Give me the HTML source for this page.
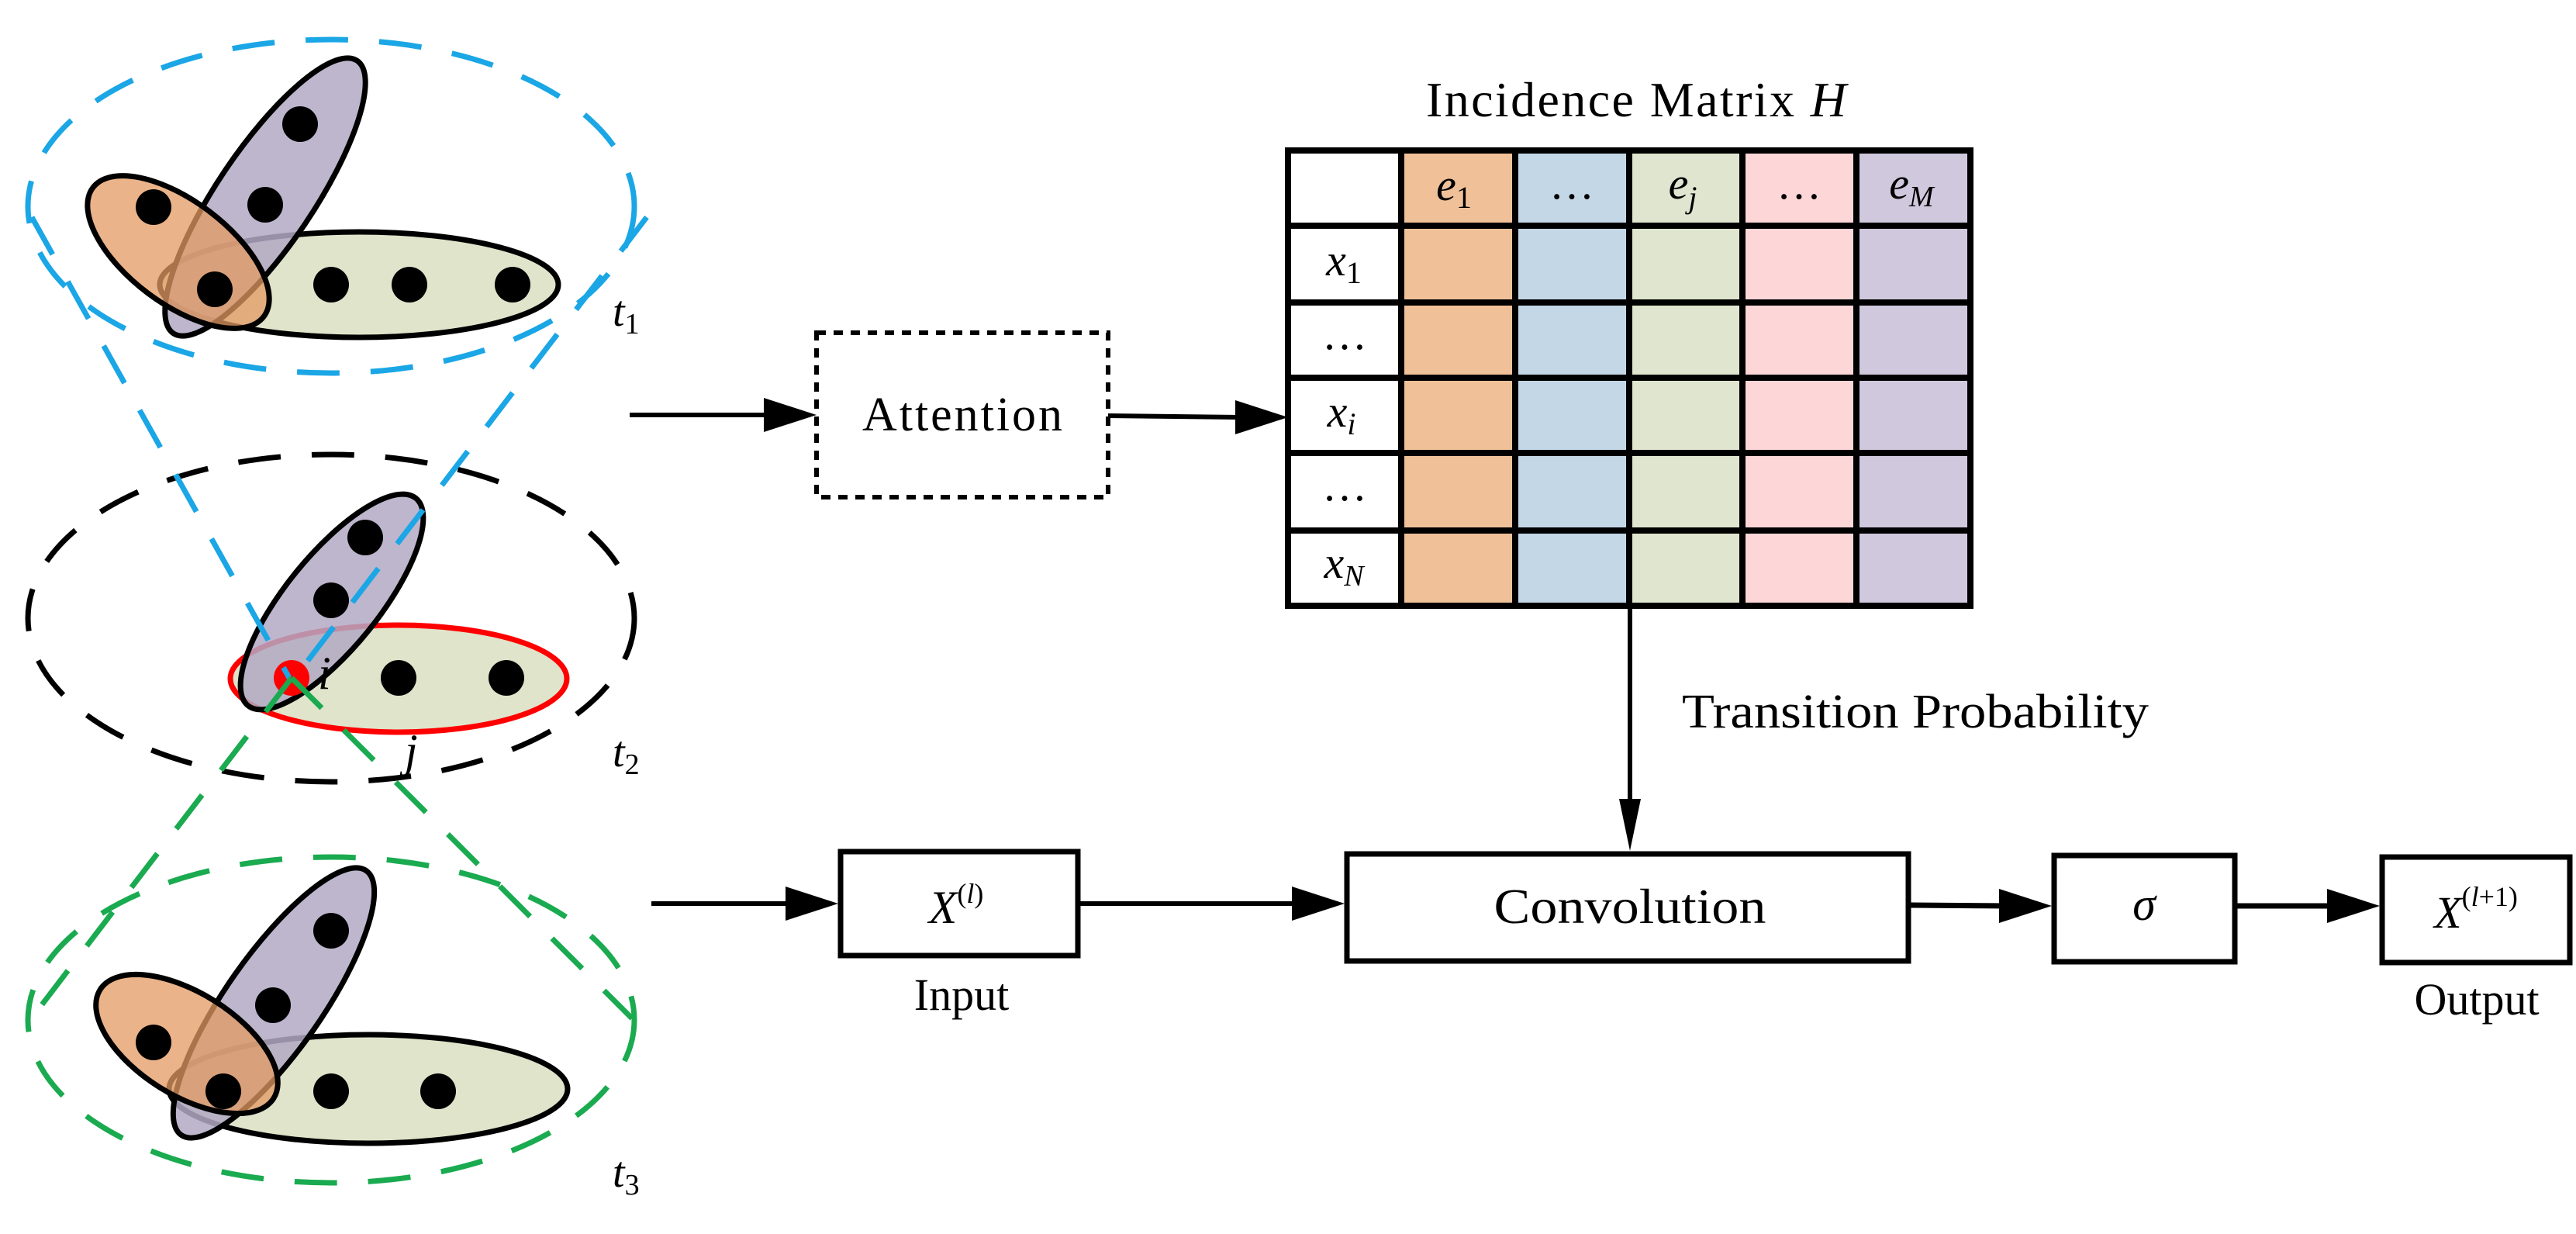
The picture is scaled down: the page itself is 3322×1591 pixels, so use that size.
<!DOCTYPE html>
<html><head><meta charset="utf-8"><style>
html,body{margin:0;padding:0;background:#fff;}
svg{display:block;}
text{font-family:"Liberation Serif","DejaVu Serif",serif;fill:#000;}
</style></head><body>
<svg width="3322" height="1591" viewBox="0 0 3322 1591" xmlns="http://www.w3.org/2000/svg" font-family="Liberation Serif, DejaVu Serif, serif">
<!-- t1 -->
<ellipse cx="427" cy="266" rx="391" ry="215" fill="none" stroke="#1ba6e6" stroke-width="7" stroke-dasharray="55 40"/>
<ellipse cx="463" cy="367" rx="257" ry="68" fill="#dfe4cb" stroke="#000" stroke-width="7"/>
<ellipse cx="342" cy="254" rx="212" ry="62" transform="rotate(-56 342 254)" fill="#b3a9c4" fill-opacity="0.85" stroke="#000" stroke-width="7"/>
<ellipse cx="230" cy="325" rx="138" ry="66" transform="rotate(37 230 325)" fill="#e39a62" fill-opacity="0.75" stroke="#000" stroke-width="7"/>
<g fill="#000">
<circle cx="387" cy="160" r="23"/><circle cx="342" cy="264" r="23"/>
<circle cx="198" cy="267" r="23"/><circle cx="277" cy="373" r="23"/>
<circle cx="427" cy="367" r="23"/><circle cx="528" cy="367" r="23"/>
<circle cx="661" cy="367" r="23"/>
</g>
<text x="790" y="420" font-size="56" font-style="italic">t<tspan font-style="normal" font-size="38" dy="10">1</tspan></text>
<!-- t2 -->
<ellipse cx="427" cy="797" rx="391" ry="211" fill="none" stroke="#000" stroke-width="7" stroke-dasharray="55 40"/>
<ellipse cx="514" cy="875" rx="217" ry="69" fill="#dfe4cb" stroke="#ff0000" stroke-width="7"/>
<ellipse cx="428" cy="776" rx="172" ry="60" transform="rotate(-51 428 776)" fill="#b3a9c4" fill-opacity="0.85" stroke="#000" stroke-width="7"/>
<g fill="#000">
<circle cx="471" cy="693" r="23"/><circle cx="427" cy="774" r="23"/>
<circle cx="514" cy="874" r="23"/><circle cx="653" cy="874" r="23"/>
</g>
<circle cx="376" cy="874" r="23" fill="#ff0000"/>
<text x="410" y="888" font-size="60" font-style="italic">i</text>
<text x="522" y="988" font-size="60" font-style="italic">j</text>
<text x="790" y="988" font-size="56" font-style="italic">t<tspan font-style="normal" font-size="38" dy="10">2</tspan></text>
<!-- cone lines -->
<g fill="none" stroke-width="7" stroke-dasharray="55 40">
<line x1="41" y1="280" x2="373" y2="874" stroke="#1ba6e6"/>
<line x1="834" y1="280" x2="380" y2="874" stroke="#1ba6e6"/>
<line x1="376" y1="874" x2="39" y2="1315" stroke="#1aaa50"/>
<line x1="376" y1="874" x2="815" y2="1313" stroke="#1aaa50"/>
</g>
<!-- t3 -->
<ellipse cx="427" cy="1315" rx="391" ry="210" fill="none" stroke="#1aaa50" stroke-width="7" stroke-dasharray="55 40"/>
<ellipse cx="475" cy="1404" rx="257" ry="70" fill="#dfe4cb" stroke="#000" stroke-width="7"/>
<ellipse cx="353" cy="1293" rx="208" ry="62" transform="rotate(-55 353 1293)" fill="#b3a9c4" fill-opacity="0.85" stroke="#000" stroke-width="7"/>
<ellipse cx="241" cy="1346" rx="132" ry="66" transform="rotate(32 241 1346)" fill="#e39a62" fill-opacity="0.75" stroke="#000" stroke-width="7"/>
<g fill="#000">
<circle cx="427" cy="1200" r="23"/><circle cx="352" cy="1296" r="23"/>
<circle cx="198" cy="1344" r="23"/><circle cx="288" cy="1407" r="23"/>
<circle cx="427" cy="1407" r="23"/><circle cx="565" cy="1407" r="23"/>
</g>
<text x="790" y="1530" font-size="56" font-style="italic">t<tspan font-style="normal" font-size="38" dy="10">3</tspan></text>

<!-- Attention -->
<line x1="812" y1="535" x2="1000" y2="535" stroke="#000" stroke-width="6"/>
<polygon points="1053,535 985,513 985,557" fill="#000"/>
<rect x="1053" y="429" width="376" height="212" fill="none" stroke="#000" stroke-width="6" stroke-dasharray="12 10"/>
<text x="1241" y="555" font-size="62" text-anchor="middle" textLength="258">Attention</text>
<line x1="1429" y1="536" x2="1600" y2="538" stroke="#000" stroke-width="6"/>
<polygon points="1661,538 1593,516 1593,560" fill="#000"/>

<!-- Matrix -->
<text x="2110" y="150" font-size="64" text-anchor="middle" textLength="542">Incidence Matrix <tspan font-style="italic">H</tspan></text>
<g>
<rect x="1807" y="194" width="147" height="587" fill="#f0c199"/>
<rect x="1954" y="194" width="147" height="587" fill="#c3d7e7"/>
<rect x="2101" y="194" width="146" height="587" fill="#e0e5cf"/>
<rect x="2247" y="194" width="147" height="587" fill="#fdd6d7"/>
<rect x="2394" y="194" width="147" height="587" fill="#d0c8dd"/>
</g>
<g stroke="#000" stroke-width="8" fill="none">
<rect x="1661" y="194" width="880" height="587"/>
<line x1="1807" y1="194" x2="1807" y2="781"/><line x1="1954" y1="194" x2="1954" y2="781"/>
<line x1="2101" y1="194" x2="2101" y2="781"/><line x1="2247" y1="194" x2="2247" y2="781"/>
<line x1="2394" y1="194" x2="2394" y2="781"/>
<line x1="1661" y1="291" x2="2541" y2="291"/><line x1="1661" y1="390" x2="2541" y2="390"/>
<line x1="1661" y1="487" x2="2541" y2="487"/><line x1="1661" y1="584" x2="2541" y2="584"/>
<line x1="1661" y1="684" x2="2541" y2="684"/>
</g>
<g font-size="58">
<text x="1875" y="258" text-anchor="middle"><tspan font-style="italic">e</tspan><tspan font-size="40" dy="10">1</tspan></text>
<text x="2027" y="256" text-anchor="middle">…</text>
<text x="2170" y="256" text-anchor="middle"><tspan font-style="italic">e</tspan><tspan font-size="40" font-style="italic" dy="12">j</tspan></text>
<text x="2320" y="256" text-anchor="middle">…</text>
<text x="2465" y="256" text-anchor="middle"><tspan font-style="italic">e</tspan><tspan font-size="38" font-style="italic" dy="10">M</tspan></text>
<text x="1733" y="355" text-anchor="middle"><tspan font-style="italic">x</tspan><tspan font-size="40" dy="10">1</tspan></text>
<text x="1734" y="450" text-anchor="middle">…</text>
<text x="1730" y="550" text-anchor="middle"><tspan font-style="italic">x</tspan><tspan font-size="40" font-style="italic" dy="10">i</tspan></text>
<text x="1734" y="645" text-anchor="middle">…</text>
<text x="1733" y="745" text-anchor="middle"><tspan font-style="italic">x</tspan><tspan font-size="38" font-style="italic" dy="10">N</tspan></text>
</g>

<!-- Transition -->
<line x1="2102" y1="781" x2="2102" y2="1040" stroke="#000" stroke-width="6"/>
<polygon points="2102,1097 2088,1030 2116,1030" fill="#000"/>
<text x="2169" y="938" font-size="62" textLength="602" lengthAdjust="spacingAndGlyphs">Transition Probability</text>

<!-- bottom row -->
<line x1="840" y1="1165" x2="1030" y2="1165" stroke="#000" stroke-width="6"/>
<polygon points="1081,1165 1013,1143 1013,1187" fill="#000"/>
<rect x="1084" y="1098" width="306" height="134" fill="none" stroke="#000" stroke-width="7"/>
<text x="1233" y="1190" font-size="60" text-anchor="middle"><tspan font-style="italic">X</tspan><tspan font-size="36" dy="-26">(</tspan><tspan font-size="36" font-style="italic">l</tspan><tspan font-size="36">)</tspan></text>
<text x="1240" y="1302" font-size="58" text-anchor="middle">Input</text>
<line x1="1393" y1="1165" x2="1680" y2="1165" stroke="#000" stroke-width="6"/>
<polygon points="1734,1165 1666,1143 1666,1187" fill="#000"/>
<rect x="1737" y="1101" width="724" height="138" fill="none" stroke="#000" stroke-width="7"/>
<text x="2102" y="1190" font-size="64" text-anchor="middle" textLength="351" lengthAdjust="spacingAndGlyphs">Convolution</text>
<line x1="2464" y1="1167" x2="2590" y2="1168" stroke="#000" stroke-width="7"/>
<polygon points="2646,1168 2578,1146 2578,1190" fill="#000"/>
<rect x="2649" y="1103" width="233" height="137" fill="none" stroke="#000" stroke-width="7"/>
<text x="2765" y="1186" font-size="60" font-style="italic" text-anchor="middle">σ</text>
<line x1="2885" y1="1168" x2="3010" y2="1168" stroke="#000" stroke-width="7"/>
<polygon points="3069,1168 3001,1146 3001,1190" fill="#000"/>
<rect x="3072" y="1105" width="242" height="136" fill="none" stroke="#000" stroke-width="7"/>
<text x="3193" y="1196" font-size="58" text-anchor="middle"><tspan font-style="italic">X</tspan><tspan font-size="36" dy="-28">(</tspan><tspan font-size="36" font-style="italic">l</tspan><tspan font-size="36">+1)</tspan></text>
<text x="3194" y="1308" font-size="58" text-anchor="middle">Output</text>
</svg>
</body></html>
